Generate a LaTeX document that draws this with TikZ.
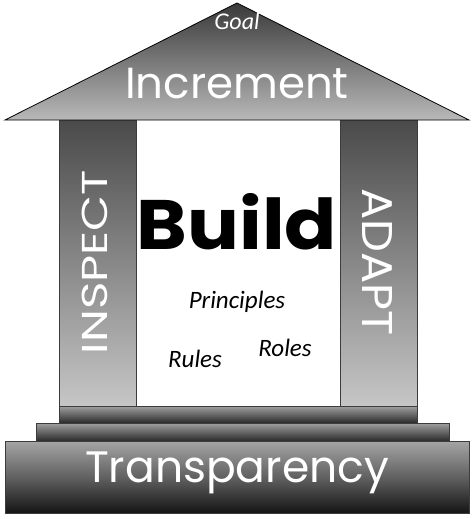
\documentclass[tikz,border=0pt]{standalone}
\usepackage{fontspec}
\newfontfamily\chalk{Poppins}
\newfontfamily\labelfont{Carlito}
\definecolor{roofTop}{HTML}{3A3A3A}
\definecolor{roofBot}{HTML}{B8B8B8}
\definecolor{pilTop}{HTML}{4A4A4A}
\definecolor{pilBot}{HTML}{C6C6C6}
\definecolor{stepTop}{HTML}{A0A0A0}
\definecolor{stepBot}{HTML}{2A2A2A}
\definecolor{edge}{HTML}{3C3C3C}
\tikzset{
  part/.style={draw=edge, line width=0.8pt},
  chalktext/.style={text=white, font=\chalk},
  smalltext/.style={font=\labelfont\itshape\fontsize{25}{28}\selectfont, text=black}
}
\begin{document}
\begin{tikzpicture}[x=1pt,y=-1pt]
\useasboundingbox (0,0) rectangle (474,519);
% white middle
\fill[white] (136,120) rectangle (340,406);
% pillars
\shade[part, top color=pilTop, bottom color=pilBot] (59,120) rectangle (136,406);
\shade[part, top color=pilTop, bottom color=pilBot] (340,120) rectangle (417,406);
% roof
\shade[part, draw=black, top color=roofTop, bottom color=roofBot] (5,120) -- (237,3) -- (469,120) -- cycle;
% steps
\shade[part, top color=stepTop, bottom color=stepBot] (59,406) rectangle (417,423);
\shade[part, top color=stepTop, bottom color=stepBot] (36,423) rectangle (449,441);
\shade[part, top color=stepTop!95!white, bottom color=black!92, middle color=black!62] (5,441) rectangle (469,513);
% texts
\node[text=white, font=\labelfont\itshape\fontsize{24}{26}\selectfont] (goal) at (237,21) {Goal};
\node[chalktext, font=\chalk\fontsize{43.5}{46}\selectfont] (inc) at (237,84) {Increment};
\node[chalktext, font=\chalk\fontsize{36}{40}\selectfont, rotate=90] (insp) at (95,262) {\scalebox{1.3}[1]{INSPECT}};
\node[chalktext, font=\chalk\fontsize{43}{46}\selectfont, rotate=-90] (adapt) at (377,262) {\scalebox{1.08}[1]{ADAPT}};
\node[text=black, font=\chalk\bfseries\fontsize{70}{76}\selectfont, xscale=1.1] (build) at (237,222) {Build};
\node[smalltext] (princ) at (237,302) {Principles};
\node[smalltext] (rules) at (195,359) {Rules};
\node[smalltext] (roles) at (285,348) {Roles};
\node[chalktext, font=\chalk\fontsize{44}{48}\selectfont] (trans) at (237,473) {Transparency};
\end{tikzpicture}
\end{document}
